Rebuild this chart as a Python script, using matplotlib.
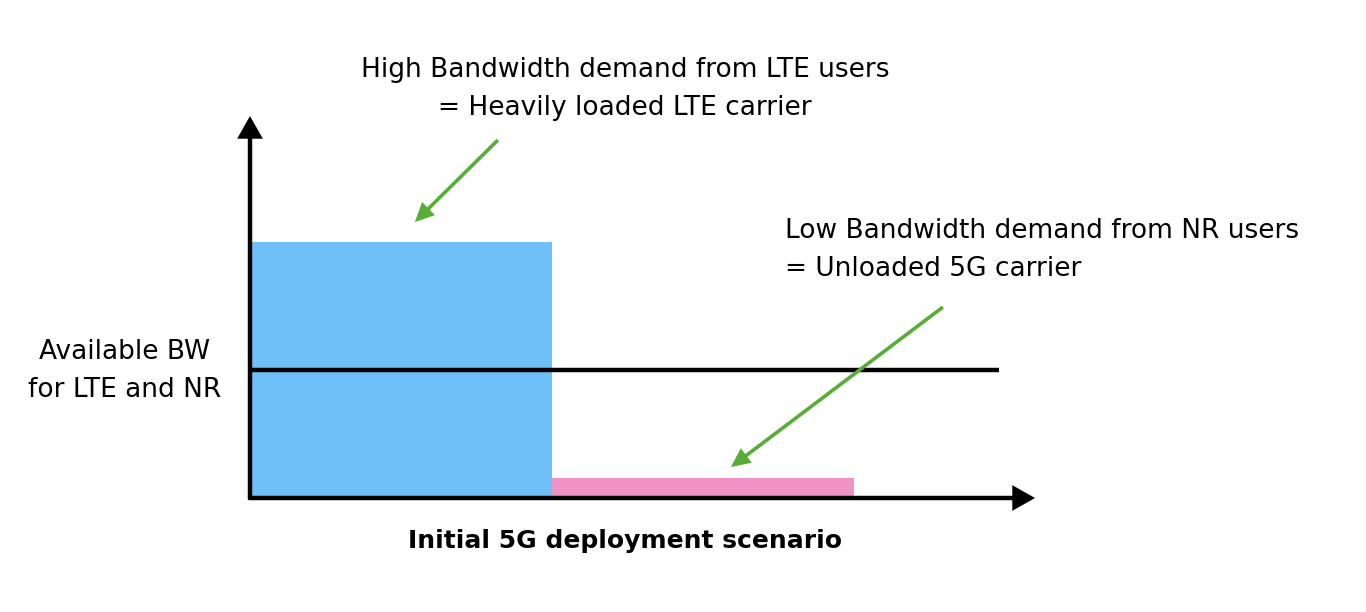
import matplotlib
matplotlib.use("Agg")
import matplotlib.pyplot as plt

# Data
categories = ["LTE", "NR"]
demand = [2.0, 0.16]          # bandwidth demand, relative to available BW
available_bw = 1.0
bar_colors = ["#6fbff9", "#f093c4"]
green = "#57ad36"

W, H = 1366, 612
fig = plt.figure(figsize=(W / 100, H / 100), dpi=100)
plt.rcParams['font.family'] = ['DejaVu Sans']

# axes: left 250px, bottom 498px, right 1035px, top 116px
ax = fig.add_axes([250 / W, (H - 498) / H, 785 / W, 382 / H])
ax.set_xlim(0, 2.6)
ax.set_ylim(0, 2.985)
for s in ax.spines.values():
    s.set_visible(False)
ax.set_xticks([])
ax.set_yticks([])
ax.patch.set_alpha(0)

xs = list(range(len(categories)))
ax.bar(xs, demand, width=1.0, align='edge', color=bar_colors, zorder=2)
ax.hlines(available_bw, 0, 2.48, color='black', lw=3.2, zorder=3)

# axis arrows
arrow_kw = dict(arrowstyle='-|>,head_length=1.15,head_width=0.65', color='black', lw=3.2,
                shrinkA=0, shrinkB=0, capstyle='butt', joinstyle='miter')
ax.annotate('', xy=(0, 1.0), xytext=(0, -0.004), xycoords='axes fraction',
            arrowprops=arrow_kw, annotation_clip=False)
ax.annotate('', xy=(1.0, 0), xytext=(-0.002, 0), xycoords='axes fraction',
            arrowprops=arrow_kw, annotation_clip=False)

# green callout arrows
g_kw = dict(arrowstyle='-|>,head_length=0.95,head_width=0.45', color=green, lw=2.6,
            shrinkA=0, shrinkB=0, capstyle='butt', joinstyle='miter')
ax.annotate('', xy=(0.546, demand[0] + 0.156), xytext=(0.821, 2.797),
            arrowprops=g_kw, annotation_clip=False, zorder=4)
ax.annotate('', xy=(1.593, demand[1] + 0.082), xytext=(2.295, 1.492),
            arrowprops=g_kw, annotation_clip=False, zorder=4)

fs = 19
def ftext(px, py, s, size=fs, **kw):
    fig.text(px / W, 1 - py / H, s, fontsize=size, va='center', linespacing=1.6, **kw)

ftext(625, 89, "High Bandwidth demand from LTE users\n= Heavily loaded LTE carrier", ha='center')
ftext(785, 250, "Low Bandwidth demand from NR users\n= Unloaded 5G carrier", ha='left',
      multialignment='left')
ftext(125, 371, "Available BW\nfor LTE and NR", ha='center', multialignment='center')
ftext(625, 541, "Initial 5G deployment scenario", size=18, ha='center', fontweight='bold')

fig.savefig("out.png", dpi=100)
